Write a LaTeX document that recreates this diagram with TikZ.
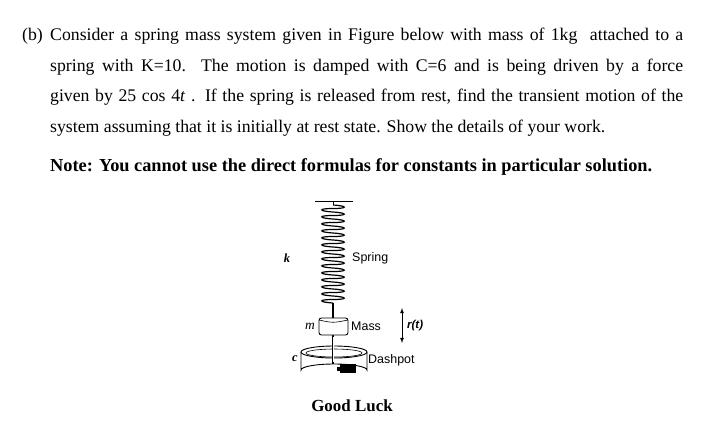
\documentclass[tikz,border=0pt]{standalone}
\usepackage{fontspec}
\setmainfont{Liberation Serif}
\newfontfamily\sanf{Liberation Sans}
\begin{document}
\begin{tikzpicture}[x=1bp,y=-1bp,
  txt/.style={anchor=base west,inner sep=0,font=\fontsize{17.8}{31}\selectfont},
  lbl/.style={inner sep=0,font=\sanf\fontsize{12.5}{14}\selectfont},
  part/.style={draw,line width=0.9bp,fill=white}]
\useasboundingbox (0,0) rectangle (716,428);
\node[txt] (b) at (22,40) {(b)};
\node[txt,text width=633bp,align=justify,anchor=north west] (para) at (50,27.5)
 {Consider a spring mass system given in Figure below with mass of 1kg~ attached to a\linebreak
 spring with K=10. The motion is damped with C=6 and is being driven by a force\linebreak
 given by 25 cos 4\textit{t}~. If the spring is released from rest, find the transient motion of the\linebreak
 system assuming that it is initially at rest state. Show the details of your work.};
\node[txt,font=\bfseries\fontsize{18.4}{18}\selectfont] (note) at (50,171) {Note: You cannot use the direct formulas for constants in particular solution.};
% ceiling and spring
\coordinate (c1) at (315,201); \coordinate (c2) at (353,201);
\draw[line width=1bp] (c1) -- (c2);
\coordinate (s0) at (333,201);
\coordinate (s1) at (333,205);
\draw[line width=1bp] (s0) -- (s1);
\draw[line width=1.2bp] (s1)
 \foreach \i in {0,...,13}{ .. controls (348,205+7*\i+1) and (348,205+7*\i+3.5) .. (333,205+7*\i+3.5)
   .. controls (318,205+7*\i+3.5) and (318,205+7*\i+6) .. (333,205+7*\i+7)} ;
\coordinate (s2) at (333,303);
\coordinate (mt) at (333,318);
\draw[line width=1.4bp] (s2) -- (mt);
% dashpot
\draw[part] (301,352) -- (301,370) arc[start angle=180,end angle=360,x radius=33,y radius=6] -- (367,352);
\draw[part] (334,352) ellipse[x radius=33,y radius=6];
\draw[line width=0.6bp] (334,353) ellipse[x radius=28,y radius=4];
\fill (340,364) rectangle (356,373);
\fill (337,367) rectangle (342,371);
% rod
\draw[line width=2.5bp] (333,333) -- (333,364);
\draw[line width=0.8bp,white] (333,337) -- (333,362);
% mass
\draw[part,rounded corners=2.5bp] (319,318) rectangle (348,335);
\draw[line width=0.6bp] (319,320) .. controls (333,323) .. (348,320);
% labels
\node[inner sep=0,font=\itshape\bfseries\fontsize{12.5}{13}\selectfont] (k) at (287,258) {k};
\node[lbl,anchor=west] (spr) at (352,258) {Spring};
\node[inner sep=0,font=\itshape\fontsize{13.5}{13}\selectfont] (m) at (310,326) {m};
\node[lbl,anchor=west] (mass) at (351,326) {Mass};
\coordinate (a1) at (402,308); \coordinate (a2) at (402,343);
\draw[-latex,line width=0.8bp] (402,326) -- (a1);
\draw[-latex,line width=0.8bp] (402,326) -- (a2);
\node[lbl,anchor=west,font=\sanf\itshape\bfseries\fontsize{11.5}{12}\selectfont] (rt) at (407,326) {r(t)};
\node[inner sep=0,font=\itshape\bfseries\fontsize{12.5}{13}\selectfont] (c) at (295,359) {c};
\node[lbl,anchor=west] (dp) at (368,360) {Dashpot};
\node[txt,anchor=base,font=\bfseries\fontsize{17}{18}\selectfont] (gl) at (352,411) {Good Luck};
\end{tikzpicture}
\end{document}
